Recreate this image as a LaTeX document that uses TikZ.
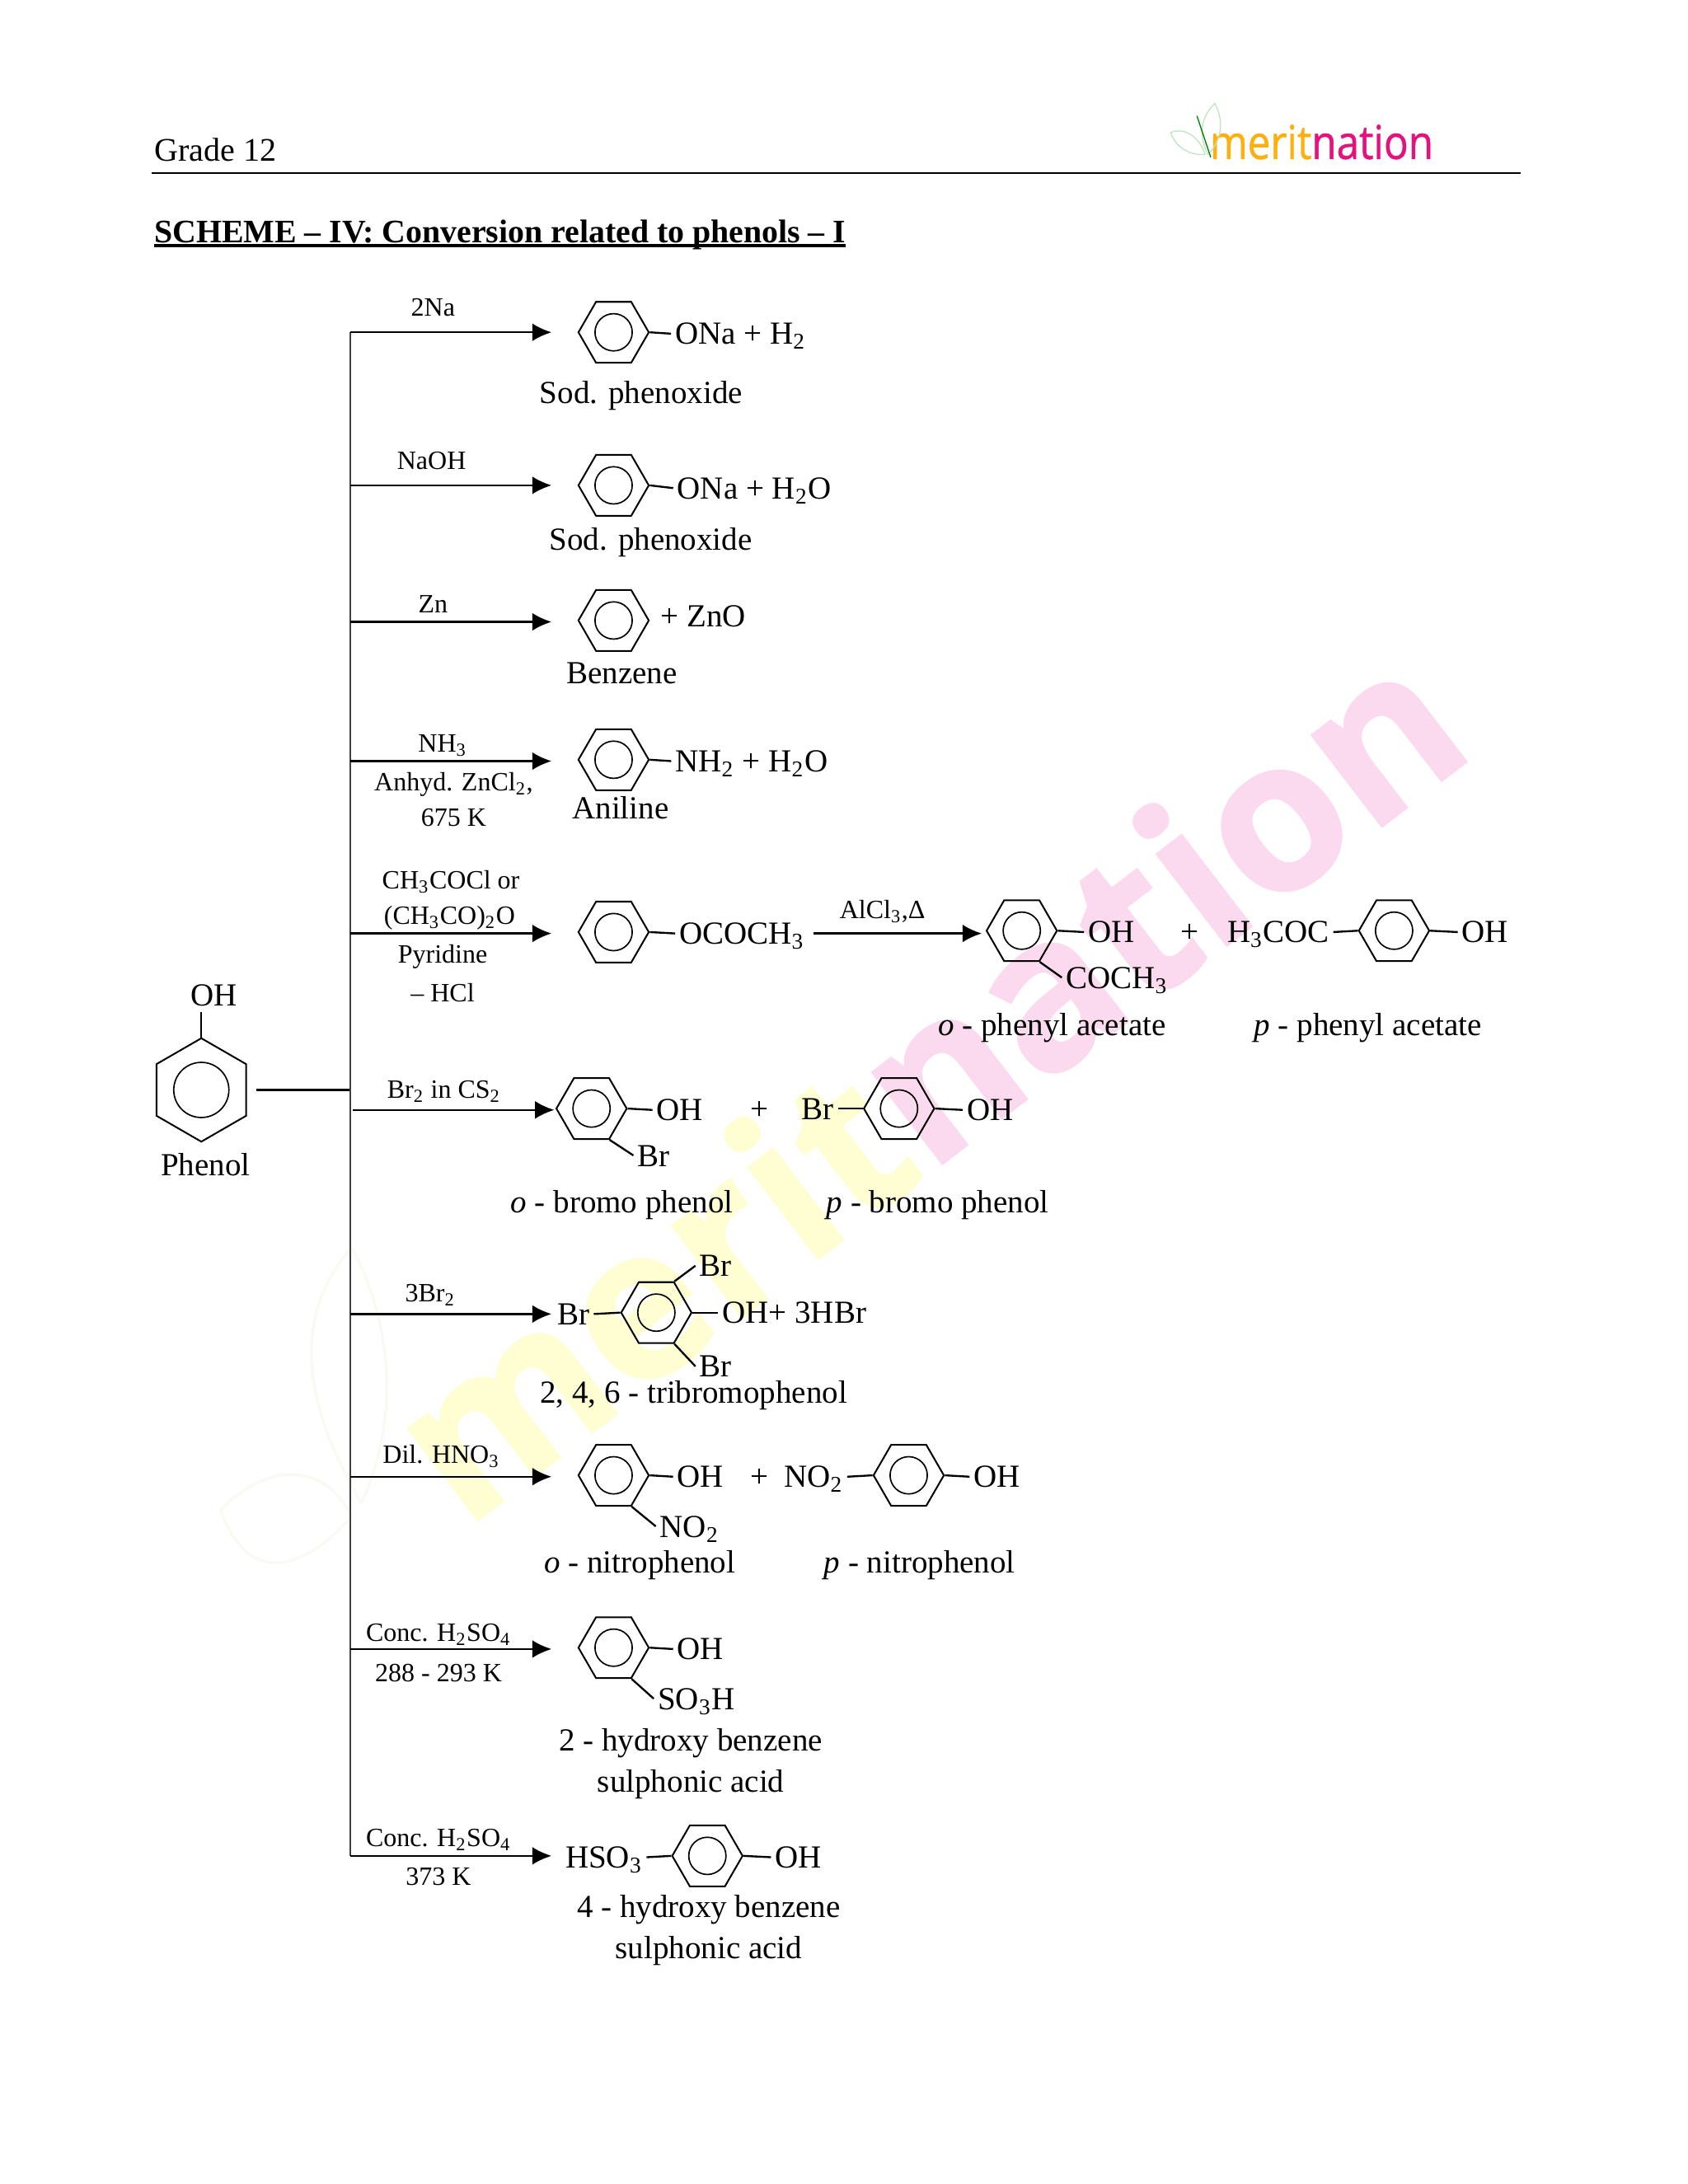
\documentclass[tikz,border=0pt]{standalone}
\usepackage{fontspec}
\setmainfont{Liberation Serif}
\newfontfamily\logofont[FakeBold=0.9]{Open Sans}
\usetikzlibrary{arrows.meta,shapes.geometric}
\definecolor{wmyellow}{HTML}{FEFED2}
\definecolor{wmpink}{HTML}{FBD9EE}
\definecolor{wmleaf}{HTML}{F8FBF4}
\definecolor{logoorange}{HTML}{FDB00E}
\definecolor{logopink}{HTML}{E5127D}
\tikzset{
	ring/.style={regular polygon, regular polygon sides=6, draw, minimum size=25.5bp, inner sep=0pt, line width=0.6bp},
	inring/.style={circle, draw, minimum size=13.5bp, inner sep=0pt, line width=0.5bp},
	lab/.style={inner sep=0pt, outer sep=1.5bp, text height=9bp, text depth=1.2bp, font=\fontsize{11.7}{14}\selectfont},
	reag/.style={inner sep=0pt, outer sep=0pt, text height=7.4bp, text depth=1bp, font=\fontsize{9.6}{12}\selectfont},
	bond/.style={line width=0.7bp},
	react/.style={line width=0.7bp, -{Latex[length=7bp,width=6.5bp]}},
}
\def\benz#1(#2){\node[ring] (#1) at (#2) {}; \node[inring] (#1c) at (#1.center) {};}
\def\sub#1{\textsubscript{#1}}
\begin{document}
\begin{tikzpicture}[x=0.5bp,y=-0.5bp]
		\useasboundingbox (0,0) rectangle (1224,1584);
		%%%%% WATERMARK %%%%%
		\draw[wmleaf, line width=1bp] (262,1090) .. controls (215,1010) and (215,950) .. (255,905) .. controls (285,960) and (290,1030) .. (262,1090);
		\draw[wmleaf, line width=1bp] (255,1100) .. controls (210,1150) and (175,1140) .. (160,1095) .. controls (195,1060) and (235,1060) .. (255,1100);
		\node[inner sep=0pt, rotate=37.5, font=\logofont\bfseries\fontsize{77}{77}\selectfont] (wmark) at (670,782) {\textcolor{wmyellow}{merit}\textcolor{wmpink}{nation}};
		%%%%% HEADER %%%%%
		\node[lab, anchor=west, outer sep=0pt, font=\fontsize{12}{14}\selectfont] (grade) at (112,109) {Grade 12};
		\node[inner sep=0pt, anchor=west, font=\logofont\fontsize{17}{18}\selectfont] (logo) at (877,103) {\scalebox{.87}[1]{\textcolor{logoorange}{merit}\textcolor{logopink}{nation}}};
		\draw[green!40!gray!35, line width=0.4bp] (876,112) .. controls (868,96) and (872,84) .. (881,75) .. controls (888,88) and (886,102) .. (876,112);
		\draw[green!40!gray!35, line width=0.4bp] (874,112) .. controls (862,113) and (852,106) .. (849,96) .. controls (860,92) and (870,100) .. (874,112);
		\draw[green!50!black, line width=0.4bp] (868,84) -- (878,114);
		\coordinate (ruleL) at (110,125.5);
		\coordinate (ruleR) at (1103,125.5);
		\draw[line width=0.8bp] (ruleL) -- (ruleR);
		\node[lab, anchor=west, outer sep=0pt, font=\bfseries\fontsize{11.95}{14}\selectfont] (title) at (112,168) {SCHEME -- IV: Conversion related to phenols -- I};
		\draw[line width=1bp] (title.south west) -- (title.south east);
		%%%%% PHENOL %%%%%
		\node[regular polygon, regular polygon sides=6, shape border rotate=30, draw, minimum size=37.5bp, inner sep=0pt, line width=0.6bp] (phenol) at (146,790.5) {};
		\node[circle, draw, minimum size=20bp, inner sep=0pt, line width=0.5bp] (phenolc) at (phenol.center) {};
		\node[lab] (phoh) at (155,722) {OH};
		\node[lab] (phname) at (149,845) {Phenol};
		\coordinate (phtop) at (146,734);
		\draw[bond] (phtop) -- (phenol.corner 1);
		\coordinate (trunkA) at (254,241);
		\coordinate (trunkB) at (254,1346);
		\coordinate (trunkM) at (254,790.5);
		\coordinate (phout) at (186,790.5);
		\draw[bond] (phout) -- (trunkM);
		\draw[line width=0.8bp, black!75] (trunkA) -- (trunkB);
		%%%%% 2Na %%%%%
		\coordinate (tipa) at (400,241);
		\draw[react] (trunkA) -- (tipa);
		\node[reag] (ra) at (314,223) {2Na};
		\benz{ringa}(445,241)
		\node[lab] (proda) at (537,242) {ONa + H\sub{2}};
		\draw[bond] (ringa.corner 6) -- (proda.west);
		\node[lab] (namea) at (465,285) {Sod. phenoxide};
		%%%%% NaOH %%%%%
		\coordinate (stb) at (254,352);
		\coordinate (tipb) at (400,352);
		\draw[react] (stb) -- (tipb);
		\node[reag] (rb) at (313,334) {NaOH};
		\benz{ringb}(445,352)
		\node[lab] (prodb) at (547,354) {ONa + H\sub{2}O};
		\draw[bond] (ringb.corner 6) -- (prodb.west);
		\node[lab] (nameb) at (472,391) {Sod. phenoxide};
		%%%%% Zn %%%%%
		\coordinate (stc) at (254,451);
		\coordinate (tipc) at (400,451);
		\draw[react] (stc) -- (tipc);
		\node[reag] (rc) at (314,438) {Zn};
		\benz{ringc}(445,450)
		\node[lab] (prodc) at (510,447) {+ ZnO};
		\node[lab] (namec) at (451,488) {Benzene};
		%%%%% NH3 %%%%%
		\coordinate (std) at (254,552);
		\coordinate (tipd) at (400,552);
		\draw[react] (std) -- (tipd);
		\node[reag] (rd) at (321,539) {NH\sub{3}};
		\node[reag] (rdb) at (329,567) {Anhyd. ZnCl\sub{2},};
		\node[reag] (rdc) at (329,593) {675 K};
		\benz{ringd}(445,551)
		\node[lab] (prodd) at (545,552) {NH\sub{2} + H\sub{2}O};
		\draw[bond] (ringd.corner 6) -- (prodd.west);
		\node[lab] (named) at (450,586) {Aniline};
		%%%%% ACETYL %%%%%
		\coordinate (ste) at (254,677);
		\coordinate (tipe) at (400,677);
		\draw[react] (ste) -- (tipe);
		\node[reag] (re) at (327,638) {CH\sub{3}COCl or};
		\node[reag] (reb) at (326,664) {(CH\sub{3}CO)\sub{2}O};
		\node[reag] (rec) at (321,692) {Pyridine};
		\node[reag] (red) at (321,720) {-- HCl};
		\benz{ringe}(445,676)
		\node[lab] (prode) at (538,677) {OCOCH\sub{3}};
		\draw[bond] (ringe.corner 6) -- (prode.west);
		\coordinate (stf) at (590,677);
		\coordinate (tipf) at (712,677);
		\draw[react] (stf) -- (tipf);
		\node[reag] (rf) at (640,660) {AlCl\sub{3},Δ};
		\benz{ringf}(741,675)
		\node[lab] (ohf) at (806,676) {OH};
		\draw[bond] (ringf.corner 6) -- (ohf.west);
		\node[lab] (acf) at (810,709) {COCH\sub{3}};
		\draw[bond] (ringf.corner 5) -- (acf.west);
		\node[lab] (plusf) at (863,676) {+};
		\node[lab] (acg) at (927,676) {H\sub{3}COC};
		\benz{ringg}(1011,675)
		\node[lab] (ohg) at (1077,676) {OH};
		\draw[bond] (acg.east) -- (ringg.corner 3);
		\draw[bond] (ringg.corner 6) -- (ohg.west);
		\node[lab] (namef) at (763,743) {\textit{o} - phenyl acetate};
		\node[lab] (nameg) at (992,743) {\textit{p} - phenyl acetate};
		%%%%% BROMO %%%%%
		\coordinate (sth) at (256,805);
		\coordinate (tiph) at (402,805);
		\draw[react] (sth) -- (tiph);
		\node[reag] (rh) at (322,790) {Br\sub{2} in CS\sub{2}};
		\benz{ringh}(429,804)
		\node[lab] (ohh) at (493,805) {OH};
		\draw[bond] (ringh.corner 6) -- (ohh.west);
		\node[lab] (brh) at (474,838) {Br};
		\draw[bond] (ringh.corner 5) -- (brh.west);
		\node[lab] (plush) at (551,804) {+};
		\node[lab] (bri) at (593,804) {Br};
		\benz{ringi}(652,804)
		\node[lab] (ohi) at (718,805) {OH};
		\draw[bond] (bri.east) -- (ringi.corner 3);
		\draw[bond] (ringi.corner 6) -- (ohi.west);
		\node[lab] (nameh) at (451,872) {\textit{o} - bromo phenol};
		\node[lab] (namei) at (680,872) {\textit{p} - bromo phenol};
		%%%%% TRIBROMO %%%%%
		\coordinate (stj) at (254,953);
		\coordinate (tipj) at (400,953);
		\draw[react] (stj) -- (tipj);
		\node[reag] (rj) at (312,938) {3Br\sub{2}};
		\node[lab] (brj) at (416,953) {Br};
		\benz{ringj}(476,952)
		\node[lab] (brjt) at (519,918) {Br};
		\node[lab] (prodj) at (576,952) {OH+ 3HBr};
		\node[lab] (brjb) at (519,991) {Br};
		\draw[bond] (brj.east) -- (ringj.corner 3);
		\draw[bond] (ringj.corner 6) -- (prodj.west);
		\draw[bond] (ringj.corner 1) -- (brjt.west);
		\draw[bond] (ringj.corner 5) -- (brjb.west);
		\node[lab] (namej) at (503,1010) {2, 4, 6 - tribromophenol};
		%%%%% NITRO %%%%%
		\coordinate (stk) at (254,1071);
		\coordinate (tipk) at (400,1071);
		\draw[react] (stk) -- (tipk);
		\node[reag] (rk) at (320,1055) {Dil. HNO\sub{3}};
		\benz{ringk}(445,1070)
		\node[lab] (ohk) at (508,1071) {OH};
		\draw[bond] (ringk.corner 6) -- (ohk.west);
		\node[lab] (nok) at (500,1107) {NO\sub{2}};
		\draw[bond] (ringk.corner 5) -- (nok.west);
		\node[lab] (plusk) at (551,1071) {+};
		\node[lab] (nol) at (590,1071) {NO\sub{2}};
		\benz{ringl}(659,1070)
		\node[lab] (ohl) at (723,1071) {OH};
		\draw[bond] (nol.east) -- (ringl.corner 3);
		\draw[bond] (ringl.corner 6) -- (ohl.west);
		\node[lab] (namek) at (464,1133) {\textit{o} - nitrophenol};
		\node[lab] (namel) at (667,1133) {\textit{p} - nitrophenol};
		%%%%% SULPHONIC 2 %%%%%
		\coordinate (stm) at (254,1196);
		\coordinate (tipm) at (400,1196);
		\draw[react] (stm) -- (tipm);
		\node[reag] (rm) at (318,1184) {Conc. H\sub{2}SO\sub{4}};
		\node[reag] (rmb) at (318,1213) {288 - 293 K};
		\benz{ringm}(445,1195)
		\node[lab] (ohm) at (508,1196) {OH};
		\draw[bond] (ringm.corner 6) -- (ohm.west);
		\node[lab] (som) at (505,1232) {SO\sub{3}H};
		\draw[bond] (ringm.corner 5) -- (som.west);
		\node[lab] (namem) at (501,1262) {2 - hydroxy benzene};
		\node[lab] (namemb) at (501,1292) {sulphonic acid};
		%%%%% SULPHONIC 4 %%%%%
		\coordinate (tipn) at (400,1346);
		\draw[react] (trunkB) -- (tipn);
		\node[reag] (rn) at (318,1333) {Conc. H\sub{2}SO\sub{4}};
		\node[reag] (rnb) at (318,1361) {373 K};
		\node[lab] (son) at (438,1347) {HSO\sub{3}};
		\benz{ringn}(513,1346)
		\node[lab] (ohn) at (579,1347) {OH};
		\draw[bond] (son.east) -- (ringn.corner 3);
		\draw[bond] (ringn.corner 6) -- (ohn.west);
		\node[lab] (namen) at (514,1383) {4 - hydroxy benzene};
		\node[lab] (namenb) at (514,1413) {sulphonic acid};
	\end{tikzpicture}
\end{document}
